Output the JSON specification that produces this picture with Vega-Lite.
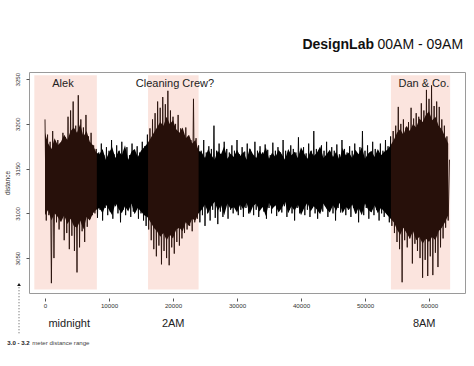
{
"$schema": "https://vega.github.io/schema/vega-lite/v6.json",
"width": 436, "height": 221,
"autosize": {"type": "none"},
"padding": {"left": 29, "top": 72, "right": 9, "bottom": 73},
"background": "white",
"config": {"view": {"stroke": "#9a9a9a", "strokeWidth": 1}, "font": "Liberation Sans"},
"datasets": {
"core": [
{"x":0,"lo":3098,"hi":3190},{"x":500,"lo":3104,"hi":3178},{"x":1000,"lo":3092,"hi":3172},{"x":1500,"lo":3100,"hi":3184},{"x":2000,"lo":3096,"hi":3176},{"x":2500,"lo":3090,"hi":3180},{"x":3000,"lo":3098,"hi":3188},{"x":3500,"lo":3088,"hi":3182},{"x":4000,"lo":3094,"hi":3192},{"x":4500,"lo":3086,"hi":3196},{"x":5000,"lo":3084,"hi":3190},{"x":5500,"lo":3092,"hi":3200},{"x":6000,"lo":3082,"hi":3186},{"x":6500,"lo":3096,"hi":3192},{"x":7000,"lo":3092,"hi":3180},{"x":7500,"lo":3100,"hi":3176},{"x":8000,"lo":3104,"hi":3168},
{"x":8500,"lo":3106,"hi":3166},{"x":9000,"lo":3100,"hi":3172},{"x":9500,"lo":3110,"hi":3160},{"x":10000,"lo":3104,"hi":3168},{"x":10500,"lo":3098,"hi":3174},{"x":11000,"lo":3112,"hi":3162},{"x":11500,"lo":3105,"hi":3170},{"x":12000,"lo":3100,"hi":3165},{"x":12500,"lo":3108,"hi":3176},{"x":13000,"lo":3102,"hi":3160},{"x":13500,"lo":3111,"hi":3169},{"x":14000,"lo":3099,"hi":3172},{"x":14500,"lo":3106,"hi":3163},{"x":15000,"lo":3102,"hi":3170},{"x":15500,"lo":3098,"hi":3174},
{"x":16000,"lo":3096,"hi":3178},{"x":16500,"lo":3090,"hi":3184},{"x":17000,"lo":3084,"hi":3190},{"x":17500,"lo":3080,"hi":3196},{"x":18000,"lo":3074,"hi":3202},{"x":18500,"lo":3078,"hi":3198},{"x":19000,"lo":3070,"hi":3208},{"x":19500,"lo":3076,"hi":3200},{"x":20000,"lo":3072,"hi":3204},{"x":20500,"lo":3082,"hi":3194},{"x":21000,"lo":3084,"hi":3190},{"x":21500,"lo":3080,"hi":3196},{"x":22000,"lo":3090,"hi":3184},{"x":22500,"lo":3086,"hi":3188},{"x":23000,"lo":3094,"hi":3178},{"x":23500,"lo":3092,"hi":3182},{"x":24000,"lo":3100,"hi":3170},
{"x":24500,"lo":3104,"hi":3168},{"x":25000,"lo":3110,"hi":3162},{"x":25500,"lo":3100,"hi":3172},{"x":26000,"lo":3108,"hi":3165},{"x":26500,"lo":3113,"hi":3160},{"x":27000,"lo":3103,"hi":3170},{"x":27500,"lo":3109,"hi":3166},{"x":28000,"lo":3098,"hi":3175},{"x":28500,"lo":3111,"hi":3161},{"x":29000,"lo":3105,"hi":3167},
{"x":29500,"lo":3107,"hi":3163},{"x":30000,"lo":3101,"hi":3171},{"x":30500,"lo":3110,"hi":3164},{"x":31000,"lo":3104,"hi":3169},{"x":31500,"lo":3112,"hi":3160},{"x":32000,"lo":3099,"hi":3173},{"x":32500,"lo":3108,"hi":3166},{"x":33000,"lo":3111,"hi":3162},{"x":33500,"lo":3102,"hi":3170},{"x":34000,"lo":3107,"hi":3165},
{"x":34500,"lo":3097,"hi":3174},{"x":35000,"lo":3112,"hi":3161},{"x":35500,"lo":3105,"hi":3168},{"x":36000,"lo":3109,"hi":3163},{"x":36500,"lo":3101,"hi":3171},{"x":37000,"lo":3106,"hi":3166},{"x":37500,"lo":3113,"hi":3160},{"x":38000,"lo":3100,"hi":3172},{"x":38500,"lo":3108,"hi":3165},{"x":39000,"lo":3103,"hi":3169},
{"x":39500,"lo":3110,"hi":3162},{"x":40000,"lo":3098,"hi":3174},{"x":40500,"lo":3106,"hi":3167},{"x":41000,"lo":3112,"hi":3161},{"x":41500,"lo":3102,"hi":3170},{"x":42000,"lo":3108,"hi":3164},{"x":42500,"lo":3104,"hi":3168},{"x":43000,"lo":3099,"hi":3175},{"x":43500,"lo":3111,"hi":3162},{"x":44000,"lo":3105,"hi":3166},
{"x":44500,"lo":3101,"hi":3171},{"x":45000,"lo":3109,"hi":3163},{"x":45500,"lo":3103,"hi":3169},{"x":46000,"lo":3112,"hi":3160},{"x":46500,"lo":3100,"hi":3173},{"x":47000,"lo":3107,"hi":3165},{"x":47500,"lo":3104,"hi":3168},{"x":48000,"lo":3110,"hi":3162},{"x":48500,"lo":3099,"hi":3171},{"x":49000,"lo":3106,"hi":3166},
{"x":49500,"lo":3098,"hi":3174},{"x":50000,"lo":3111,"hi":3161},{"x":50500,"lo":3104,"hi":3167},{"x":51000,"lo":3101,"hi":3170},{"x":51500,"lo":3109,"hi":3163},{"x":52000,"lo":3100,"hi":3172},{"x":52500,"lo":3106,"hi":3165},{"x":53000,"lo":3102,"hi":3169},{"x":53500,"lo":3098,"hi":3171},
{"x":54000,"lo":3094,"hi":3176},{"x":54500,"lo":3090,"hi":3182},{"x":55000,"lo":3082,"hi":3190},{"x":55500,"lo":3076,"hi":3194},{"x":56000,"lo":3084,"hi":3188},{"x":56500,"lo":3078,"hi":3198},{"x":57000,"lo":3072,"hi":3192},{"x":57500,"lo":3080,"hi":3200},{"x":58000,"lo":3070,"hi":3196},{"x":58500,"lo":3074,"hi":3206},{"x":59000,"lo":3066,"hi":3202},{"x":59500,"lo":3072,"hi":3210},{"x":60000,"lo":3068,"hi":3214},{"x":60500,"lo":3074,"hi":3204},{"x":61000,"lo":3070,"hi":3208},{"x":61500,"lo":3080,"hi":3198},{"x":62000,"lo":3084,"hi":3194},{"x":62500,"lo":3090,"hi":3186},{"x":63000,"lo":3098,"hi":3178}
],
"series": [
{"x":0,"y":3205},{"x":200,"y":3092},{"x":400,"y":3188},{"x":600,"y":3098},{"x":800,"y":3180},{"x":1000,"y":3022},{"x":1200,"y":3192},{"x":1400,"y":3050},{"x":1600,"y":3178},{"x":1800,"y":3090},{"x":2000,"y":3182},{"x":2200,"y":3082},{"x":2400,"y":3176},{"x":2600,"y":3095},{"x":2800,"y":3190},{"x":3000,"y":3070},{"x":3200,"y":3185},{"x":3400,"y":3078},{"x":3600,"y":3208},{"x":3800,"y":3060},{"x":4000,"y":3215},{"x":4200,"y":3075},{"x":4400,"y":3225},{"x":4600,"y":3058},{"x":4800,"y":3198},{"x":5000,"y":3034},{"x":5200,"y":3232},{"x":5400,"y":3062},{"x":5600,"y":3205},{"x":5800,"y":3080},{"x":6000,"y":3196},{"x":6200,"y":3068},{"x":6400,"y":3210},{"x":6600,"y":3085},{"x":6800,"y":3186},{"x":7000,"y":3094},{"x":7200,"y":3190},{"x":7400,"y":3098},{"x":7600,"y":3176},{"x":7800,"y":3100},
{"x":8000,"y":3172},{"x":8200,"y":3095},{"x":8400,"y":3168},{"x":8600,"y":3104},{"x":8800,"y":3178},{"x":9000,"y":3092},{"x":9200,"y":3165},{"x":9400,"y":3106},{"x":9600,"y":3174},{"x":9800,"y":3098},{"x":10000,"y":3170},{"x":10200,"y":3102},{"x":10400,"y":3182},{"x":10600,"y":3094},{"x":10800,"y":3166},{"x":11000,"y":3108},{"x":11200,"y":3176},{"x":11400,"y":3100},{"x":11600,"y":3170},{"x":11800,"y":3090},{"x":12000,"y":3180},{"x":12200,"y":3104},{"x":12400,"y":3168},{"x":12600,"y":3098},{"x":12800,"y":3174},{"x":13000,"y":3106},{"x":13200,"y":3165},{"x":13400,"y":3096},{"x":13600,"y":3178},{"x":13800,"y":3102},{"x":14000,"y":3171},{"x":14200,"y":3108},{"x":14400,"y":3175},{"x":14600,"y":3094},{"x":14800,"y":3168},{"x":15000,"y":3100},{"x":15200,"y":3180},{"x":15400,"y":3092},{"x":15600,"y":3175},{"x":15800,"y":3086},
{"x":16000,"y":3188},{"x":16200,"y":3082},{"x":16400,"y":3195},{"x":16600,"y":3070},{"x":16800,"y":3205},{"x":17000,"y":3060},{"x":17200,"y":3212},{"x":17400,"y":3052},{"x":17600,"y":3225},{"x":17800,"y":3064},{"x":18000,"y":3218},{"x":18200,"y":3043},{"x":18400,"y":3230},{"x":18600,"y":3058},{"x":18800,"y":3222},{"x":19000,"y":3050},{"x":19200,"y":3237},{"x":19400,"y":3042},{"x":19600,"y":3215},{"x":19800,"y":3062},{"x":20000,"y":3208},{"x":20200,"y":3055},{"x":20400,"y":3200},{"x":20600,"y":3068},{"x":20800,"y":3210},{"x":21000,"y":3064},{"x":21200,"y":3195},{"x":21400,"y":3072},{"x":21600,"y":3190},{"x":21800,"y":3078},{"x":22000,"y":3196},{"x":22200,"y":3082},{"x":22400,"y":3185},{"x":22600,"y":3086},{"x":22800,"y":3182},{"x":23000,"y":3080},{"x":23200,"y":3228},{"x":23400,"y":3090},{"x":23600,"y":3184},{"x":23800,"y":3094},
{"x":24000,"y":3176},{"x":24200,"y":3090},{"x":24400,"y":3170},{"x":24600,"y":3098},{"x":24800,"y":3182},{"x":25000,"y":3086},{"x":25200,"y":3168},{"x":25400,"y":3100},{"x":25600,"y":3175},{"x":25800,"y":3092},{"x":26000,"y":3172},{"x":26200,"y":3104},{"x":26400,"y":3198},{"x":26600,"y":3095},{"x":26800,"y":3170},{"x":27000,"y":3088},{"x":27200,"y":3178},{"x":27400,"y":3102},{"x":27600,"y":3166},{"x":27800,"y":3096},{"x":28000,"y":3180},{"x":28200,"y":3106},{"x":28400,"y":3172},{"x":28600,"y":3094},{"x":28800,"y":3168},{"x":29000,"y":3104},{"x":29200,"y":3176},{"x":29400,"y":3100},{"x":29600,"y":3170},{"x":29800,"y":3108},
{"x":30000,"y":3182},{"x":30200,"y":3098},{"x":30400,"y":3166},{"x":30600,"y":3104},{"x":30800,"y":3174},{"x":31000,"y":3096},{"x":31200,"y":3169},{"x":31400,"y":3106},{"x":31600,"y":3178},{"x":31800,"y":3100},{"x":32000,"y":3172},{"x":32200,"y":3108},{"x":32400,"y":3166},{"x":32600,"y":3098},{"x":32800,"y":3180},{"x":33000,"y":3104},{"x":33200,"y":3170},{"x":33400,"y":3096},{"x":33600,"y":3175},{"x":33800,"y":3108},{"x":34000,"y":3168},{"x":34200,"y":3102},{"x":34400,"y":3177},{"x":34600,"y":3094},{"x":34800,"y":3171},{"x":35000,"y":3106},{"x":35200,"y":3165},{"x":35400,"y":3100},{"x":35600,"y":3179},{"x":35800,"y":3108},
{"x":36000,"y":3170},{"x":36200,"y":3097},{"x":36400,"y":3174},{"x":36600,"y":3105},{"x":36800,"y":3168},{"x":37000,"y":3101},{"x":37200,"y":3182},{"x":37400,"y":3108},{"x":37600,"y":3170},{"x":37800,"y":3096},{"x":38000,"y":3166},{"x":38200,"y":3104},{"x":38400,"y":3176},{"x":38600,"y":3100},{"x":38800,"y":3172},{"x":39000,"y":3092},{"x":39200,"y":3168},{"x":39400,"y":3106},{"x":39600,"y":3185},{"x":39800,"y":3100},{"x":40000,"y":3170},{"x":40200,"y":3108},{"x":40400,"y":3174},{"x":40600,"y":3098},{"x":40800,"y":3167},{"x":41000,"y":3104},{"x":41200,"y":3178},{"x":41400,"y":3096},{"x":41600,"y":3170},{"x":41800,"y":3106},
{"x":42000,"y":3192},{"x":42200,"y":3100},{"x":42400,"y":3172},{"x":42600,"y":3094},{"x":42800,"y":3166},{"x":43000,"y":3106},{"x":43200,"y":3176},{"x":43400,"y":3102},{"x":43600,"y":3170},{"x":43800,"y":3108},{"x":44000,"y":3180},{"x":44200,"y":3096},{"x":44400,"y":3168},{"x":44600,"y":3104},{"x":44800,"y":3174},{"x":45000,"y":3100},{"x":45200,"y":3170},{"x":45400,"y":3092},{"x":45600,"y":3177},{"x":45800,"y":3106},{"x":46000,"y":3166},{"x":46200,"y":3101},{"x":46400,"y":3182},{"x":46600,"y":3108},{"x":46800,"y":3172},{"x":47000,"y":3098},{"x":47200,"y":3168},{"x":47400,"y":3104},{"x":47600,"y":3175},{"x":47800,"y":3096},
{"x":48000,"y":3170},{"x":48200,"y":3106},{"x":48400,"y":3178},{"x":48600,"y":3100},{"x":48800,"y":3166},{"x":49000,"y":3090},{"x":49200,"y":3174},{"x":49400,"y":3104},{"x":49600,"y":3192},{"x":49800,"y":3098},{"x":50000,"y":3170},{"x":50200,"y":3106},{"x":50400,"y":3176},{"x":50600,"y":3094},{"x":50800,"y":3168},{"x":51000,"y":3102},{"x":51200,"y":3180},{"x":51400,"y":3098},{"x":51600,"y":3172},{"x":51800,"y":3104},{"x":52000,"y":3167},{"x":52200,"y":3092},{"x":52400,"y":3178},{"x":52600,"y":3100},{"x":52800,"y":3170},{"x":53000,"y":3096},{"x":53200,"y":3182},{"x":53400,"y":3104},{"x":53600,"y":3175},{"x":53800,"y":3090},
{"x":54000,"y":3186},{"x":54200,"y":3086},{"x":54400,"y":3192},{"x":54600,"y":3078},{"x":54800,"y":3198},{"x":55000,"y":3068},{"x":55200,"y":3219},{"x":55400,"y":3060},{"x":55600,"y":3200},{"x":55800,"y":3023},{"x":56000,"y":3205},{"x":56200,"y":3070},{"x":56400,"y":3196},{"x":56600,"y":3062},{"x":56800,"y":3202},{"x":57000,"y":3072},{"x":57200,"y":3218},{"x":57400,"y":3044},{"x":57600,"y":3206},{"x":57800,"y":3066},{"x":58000,"y":3212},{"x":58200,"y":3058},{"x":58400,"y":3208},{"x":58600,"y":3050},{"x":58800,"y":3223},{"x":59000,"y":3028},{"x":59200,"y":3215},{"x":59400,"y":3048},{"x":59600,"y":3238},{"x":59800,"y":3030},{"x":60000,"y":3228},{"x":60200,"y":3052},{"x":60400,"y":3243},{"x":60600,"y":3031},{"x":60800,"y":3220},{"x":61000,"y":3056},{"x":61200,"y":3225},{"x":61400,"y":3040},{"x":61600,"y":3219},{"x":61800,"y":3062},{"x":62000,"y":3205},{"x":62200,"y":3072},{"x":62400,"y":3198},{"x":62600,"y":3084},{"x":62800,"y":3186},{"x":63000,"y":3092},{"x":63200,"y":3160}
],
"zones": [
{"x":-1670,"x2":8100,"y":3015,"y2":3254.5},
{"x":16100,"x2":24000,"y":3015,"y2":3254.5},
{"x":54050,"x2":63300,"y":3015,"y2":3254.5}
],
"zoneLabels": [
{"x":2810,"y":3240.7,"label":"Alek"},
{"x":20310,"y":3240.7,"label":"Cleaning Crew?"},
{"x":59190,"y":3240.7,"label":"Dan & Co."}
],
"times": [
{"x":3780,"y":2973.3,"label":"midnight"},
{"x":20030,"y":2973.3,"label":"2AM"},
{"x":59250,"y":2973.3,"label":"8AM"}
]
},
"layer": [
{
"data": {"name": "series"},
"mark": {"type": "line", "color": "black", "strokeWidth": 0.9},
"encoding": {
"x": {"field": "x", "type": "quantitative", "scale": {"domain": [-2500, 65625], "nice": false, "zero": false},
"axis": {"values": [0,10000,20000,30000,40000,50000,60000], "format": "d", "domain": false, "grid": false, "tickSize": 3, "offset": 5, "labelPadding": 1, "labelFontSize": 6.2, "labelFont": "Liberation Sans", "labelColor": "#333", "tickColor": "#555", "title": null, "labelFlush": false}},
"y": {"field": "y", "type": "quantitative", "scale": {"domain": [3011, 3258], "nice": false, "zero": false},
"axis": {"values": [3050,3100,3150,3200,3250], "format": "d", "domain": false, "grid": false, "tickSize": 3, "labelAngle": -90, "labelAlign": "center", "labelBaseline": "bottom", "labelPadding": 6, "labelFontSize": 6.2, "labelFont": "Liberation Sans", "labelColor": "#333", "tickColor": "#555", "title": "distance", "titleFontSize": 6.5, "titleFontWeight": "normal", "titleFont": "Liberation Sans", "titleColor": "#333", "titlePadding": 4}}
}
},
{
"data": {"name": "core"},
"mark": {"type": "area", "color": "black", "opacity": 1},
"encoding": {
"x": {"field": "x", "type": "quantitative"},
"y": {"field": "lo", "type": "quantitative"},
"y2": {"field": "hi"}
}
},
{
"data": {"name": "zones"},
"mark": {"type": "rect", "color": "#e8603c", "opacity": 0.17},
"encoding": {
"x": {"field": "x", "type": "quantitative"}, "x2": {"field": "x2"},
"y": {"field": "y", "type": "quantitative"}, "y2": {"field": "y2"}
}
},
{
"data": {"name": "zoneLabels"},
"mark": {"type": "text", "fontSize": 11, "font": "Liberation Sans", "color": "#222", "align": "center", "baseline": "alphabetic"},
"encoding": {
"x": {"field": "x", "type": "quantitative"},
"y": {"field": "y", "type": "quantitative"},
"text": {"field": "label"}
}
},
{
"data": {"name": "times"},
"mark": {"type": "text", "fontSize": 11, "font": "Liberation Sans", "color": "#222", "align": "center", "baseline": "alphabetic"},
"encoding": {
"x": {"field": "x", "type": "quantitative"},
"y": {"field": "y", "type": "quantitative"},
"text": {"field": "label"}
}
},
{
"data": {"values": [{"x": 51406, "y": 3283.2, "label": "DesignLab"}]},
"mark": {"type": "text", "fontSize": 14, "fontWeight": "bold", "font": "Liberation Sans", "color": "#111", "align": "right", "baseline": "alphabetic"},
"encoding": {
"x": {"field": "x", "type": "quantitative"},
"y": {"field": "y", "type": "quantitative"},
"text": {"field": "label"}
}
},
{
"data": {"values": [{"x": 51950, "y": 3283.2, "label": "00AM - 09AM"}]},
"mark": {"type": "text", "fontSize": 14, "font": "Liberation Sans", "color": "#111", "align": "left", "baseline": "alphabetic"},
"encoding": {
"x": {"field": "x", "type": "quantitative"},
"y": {"field": "y", "type": "quantitative"},
"text": {"field": "label"}
}
},
{
"data": {"values": [{"x": -5890, "y": 2952.9, "label": "3.0 - 3.2"}]},
"mark": {"type": "text", "fontSize": 6.1, "fontWeight": "bold", "font": "Liberation Sans", "color": "#222", "align": "left", "baseline": "alphabetic"},
"encoding": {
"x": {"field": "x", "type": "quantitative"},
"y": {"field": "y", "type": "quantitative"},
"text": {"field": "label"}
}
},
{
"data": {"values": [{"x": -2000, "y": 2952.9, "label": "meter distance range"}]},
"mark": {"type": "text", "fontSize": 6.1, "font": "Liberation Sans", "color": "#444", "align": "left", "baseline": "alphabetic"},
"encoding": {
"x": {"field": "x", "type": "quantitative"},
"y": {"field": "y", "type": "quantitative"},
"text": {"field": "label"}
}
},
{
"data": {"values": [{"x": -4062, "y": 2966, "y2": 3017.7}]},
"mark": {"type": "rule", "color": "#555", "strokeWidth": 1, "strokeDash": [1, 2]},
"encoding": {
"x": {"field": "x", "type": "quantitative"},
"y": {"field": "y", "type": "quantitative"},
"y2": {"field": "y2"}
}
},
{
"data": {"values": [{"x": -4062, "y": 3020.5}]},
"mark": {"type": "point", "shape": "triangle-up", "filled": true, "color": "#111", "size": 14, "opacity": 1},
"encoding": {
"x": {"field": "x", "type": "quantitative"},
"y": {"field": "y", "type": "quantitative"}
}
}
]
}
